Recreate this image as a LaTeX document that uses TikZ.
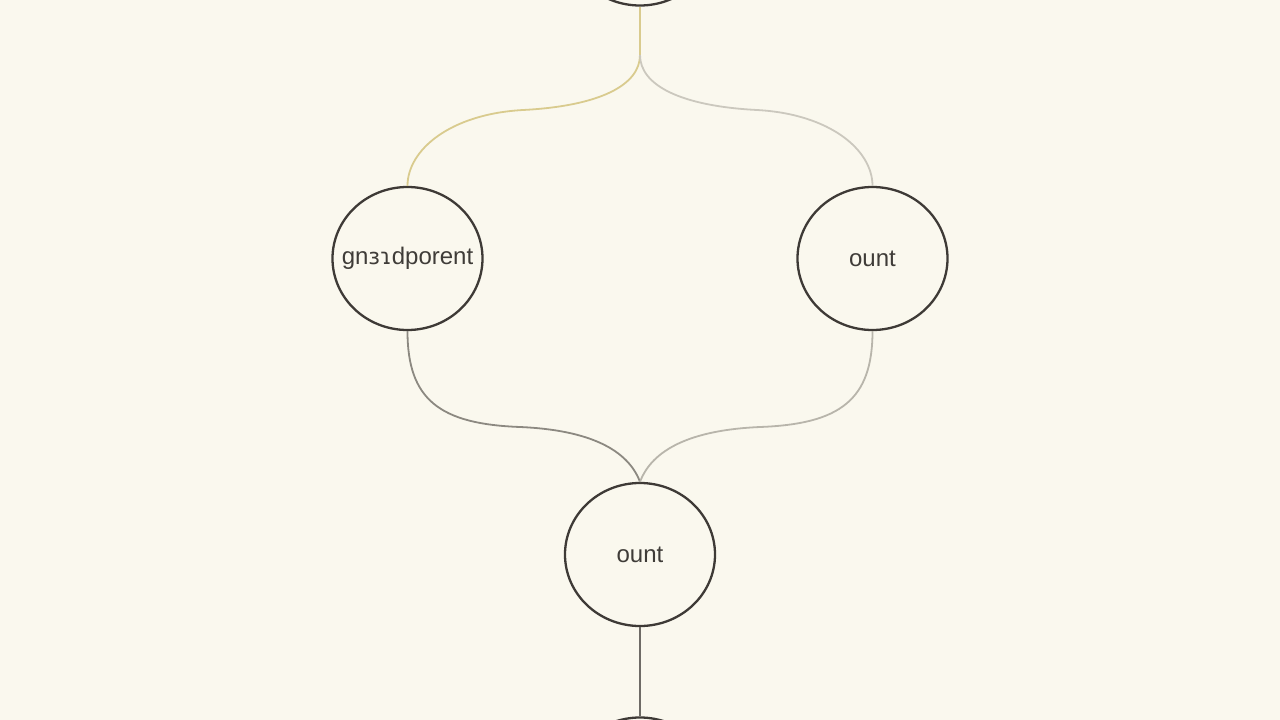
\documentclass[tikz,border=0pt]{standalone}
\usepackage{fontspec}
\setmainfont{Liberation Sans}
\newfontfamily\ipafont{DejaVu Sans}
\usetikzlibrary{shapes.geometric}
\definecolor{bgcol}{HTML}{FAF8EE}
\definecolor{ringcol}{HTML}{3E3A36}
\definecolor{txtcol}{HTML}{3F3C38}
\definecolor{goldline}{HTML}{D9CB8E}
\definecolor{paleline}{HTML}{CBC8BE}
\definecolor{midline}{HTML}{8C8981}
\definecolor{lightline}{HTML}{B8B5AB}
\definecolor{darkline}{HTML}{6E6B66}
\tikzset{
  person/.style={ellipse, draw=ringcol, line width=2.3pt, fill=bgcol,
    minimum width=150pt, minimum height=143pt, inner sep=0pt,
    text=txtcol, font=\fontsize{24}{28}\selectfont},
  link/.style={line width=1.8pt},
}
\begin{document}
\begin{tikzpicture}[x=1pt,y=-1pt]
\fill[bgcol] (0,0) rectangle (1280,720);
\useasboundingbox (0,0) rectangle (1280,720);
\node[person] (top) at (640,-66) {};
\node[person] (gp) at (407.5,258.5) {\makebox[0pt]{gn{\ipafont\fontsize{22}{26}\selectfont ɜɿ}dporent}};
\node[person] (au) at (872.5,258.5) {\makebox[0pt]{ount}};
\node[person] (mid) at (640,554.5) {\makebox[0pt]{ount}};
\node[person] (low) at (640,789) {};
\coordinate (split) at (640,55);
\coordinate (ulmid) at (523,110);
\coordinate (urmid) at (757,110);
\coordinate (llmid) at (520,427);
\coordinate (lrmid) at (760,427);
\draw[link, goldline] (top.south) -- (split);
\draw[link, goldline] (split) .. controls (640,85) and (600,106) .. (ulmid)
   .. controls (450,114) and (407.5,150) .. (gp.north);
\draw[link, paleline] (split) .. controls (640,85) and (680,106) .. (urmid)
   .. controls (830,114) and (872.5,150) .. (au.north);
\draw[link, midline] (gp.south) .. controls (407.5,400) and (440,424) .. (llmid)
   .. controls (590,430) and (628,450) .. (mid.north);
\draw[link, lightline] (au.south) .. controls (872.5,400) and (840,424) .. (lrmid)
   .. controls (690,430) and (652,450) .. (mid.north);
\draw[link, darkline] (mid.south) -- (low.north);
\end{tikzpicture}
\end{document}
